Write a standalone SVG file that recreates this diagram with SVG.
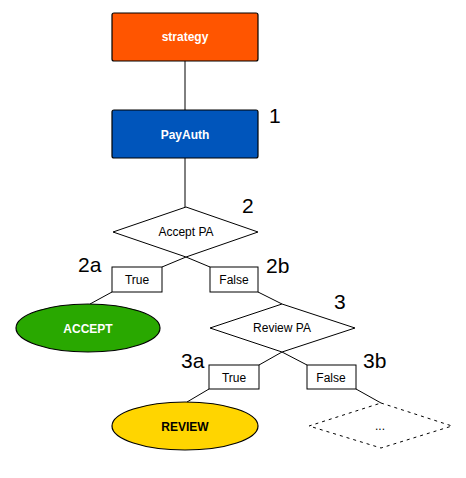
<svg xmlns="http://www.w3.org/2000/svg" width="466" height="478" viewBox="0 0 466 478">
<style>
.ln{stroke:#000;stroke-width:1;fill:none}
.box{stroke:#000;stroke-width:1.2}
.wt{font-family:"Liberation Sans",Arial,sans-serif;font-weight:bold;font-size:12px;fill:#fff;text-anchor:middle}
.bt{font-family:"Liberation Sans",Arial,sans-serif;font-size:12px;fill:#000;text-anchor:middle}
.num{font-family:"Liberation Sans",Arial,sans-serif;font-size:21px;fill:#000}
.lbl{fill:#fff;stroke:#000;stroke-width:1}
</style>
<rect width="466" height="478" fill="#fff"/>
<g id="connectors">
<line class="ln" x1="185" y1="61" x2="185" y2="110"/>
<line class="ln" x1="185" y1="158" x2="185" y2="207"/>
<line class="ln" x1="186" y1="257" x2="162" y2="267"/>
<line class="ln" x1="186" y1="257" x2="210" y2="267"/>
<line class="ln" x1="112" y1="292" x2="90" y2="304"/>
<line class="ln" x1="258" y1="292" x2="282" y2="304"/>
<line class="ln" x1="282" y1="352" x2="259" y2="365"/>
<line class="ln" x1="282" y1="352" x2="307" y2="365"/>
<line class="ln" x1="209" y1="389" x2="187" y2="402"/>
<line class="ln" x1="356" y1="389" x2="381" y2="403"/>
</g>
<g id="strategy">
<rect class="box" x="112" y="13" width="146" height="48" rx="2" fill="#FF5500"/>
<text class="wt" x="185" y="41">strategy</text>
</g>
<g id="payauth">
<rect class="box" x="112" y="110" width="146" height="48" rx="2" fill="#0055BB"/>
<text class="wt" x="185" y="139">PayAuth</text>
<text class="num" x="269" y="123">1</text>
</g>
<g id="acceptpa">
<polygon class="lbl" points="186,207 258,232 186,257 113,232"/>
<text class="bt" x="186" y="236" font-size="11">Accept PA</text>
<text class="num" x="242" y="213">2</text>
</g>
<g id="true1">
<rect class="lbl" x="112" y="267" width="50" height="25"/>
<text class="bt" x="137" y="284">True</text>
<text class="num" x="78" y="272">2a</text>
</g>
<g id="false1">
<rect class="lbl" x="210" y="267" width="48" height="25"/>
<text class="bt" x="234" y="284">False</text>
<text class="num" x="266" y="273">2b</text>
</g>
<g id="accept">
<ellipse class="box" cx="88" cy="328" rx="72" ry="24" fill="#29A800"/>
<text class="wt" x="88" y="333" font-size="13">ACCEPT</text>
</g>
<g id="reviewpa">
<polygon class="lbl" points="282,304 355,328 282,352 210,328"/>
<text class="bt" x="282" y="332" font-size="11">Review PA</text>
<text class="num" x="334" y="309">3</text>
</g>
<g id="true2">
<rect class="lbl" x="209" y="365" width="50" height="24"/>
<text class="bt" x="234" y="382">True</text>
<text class="num" x="181" y="368">3a</text>
</g>
<g id="false2">
<rect class="lbl" x="307" y="365" width="49" height="24"/>
<text class="bt" x="331" y="382">False</text>
<text class="num" x="363" y="368">3b</text>
</g>
<g id="review">
<ellipse class="box" cx="185" cy="426" rx="73" ry="24" fill="#FFD500"/>
<text class="wt" x="185" y="431" font-size="13" style="fill:#000">REVIEW</text>
</g>
<g id="more">
<polygon points="381,403 452,426 381,448 309,426" fill="none" stroke="#000" stroke-width="1" stroke-dasharray="3,4"/>
<text class="bt" x="380" y="430">...</text>
</g>
</svg>
